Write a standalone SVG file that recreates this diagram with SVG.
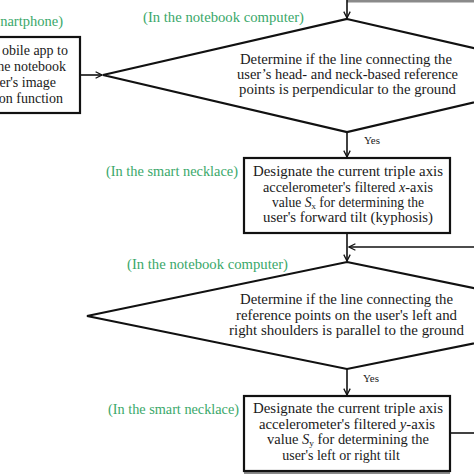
<svg xmlns="http://www.w3.org/2000/svg" width="474" height="474" viewBox="0 0 474 474">
<style>
.shape{fill:#fff;stroke:#111;stroke-width:2.2}
.t{font-family:"Liberation Serif","DejaVu Serif",serif;font-size:14px;fill:#1a1a1a}
.c{text-anchor:middle}
.g{font-family:"Liberation Serif","DejaVu Serif",serif;font-size:14.5px;fill:#3aa86a}
.y{font-family:"Liberation Serif","DejaVu Serif",serif;font-size:11px;fill:#1a1a1a}
.ln{fill:none;stroke:#111;stroke-width:1.6}
.i{font-style:italic}
.sub{font-size:9px}
</style>
<defs>
<marker id="ah" viewBox="0 0 10 10" refX="9" refY="5" markerWidth="8" markerHeight="8" markerUnits="userSpaceOnUse" orient="auto">
<path d="M1,1 L9,5 L1,9" fill="none" stroke="#111" stroke-width="1.6"/>
</marker>
</defs>
<rect width="474" height="474" fill="#fff"/>
<rect x="347" y="0" width="127" height="2.5" fill="#8a8a8a"/>
<rect x="244" y="471.5" width="206" height="2.5" fill="#8a8a8a"/>

<g id="connectors">
<line class="ln" x1="347" y1="0" x2="347" y2="18" marker-end="url(#ah)"/>
<line class="ln" x1="80" y1="75" x2="102" y2="75" marker-end="url(#ah)"/>
<line class="ln" x1="347" y1="132" x2="347" y2="157" marker-end="url(#ah)"/>
<line class="ln" x1="347" y1="233" x2="347" y2="261" marker-end="url(#ah)"/>
<line class="ln" x1="474" y1="247" x2="349" y2="247" marker-end="url(#ah)"/>
<line class="ln" x1="347" y1="369" x2="347" y2="395" marker-end="url(#ah)"/>
<line class="ln" x1="450" y1="433" x2="474" y2="433"/>
<text class="y" x="364" y="144">Yes</text>
<text class="y" x="363" y="382">Yes</text>
</g>

<g id="label-smartphone">
<text class="g" x="63" y="26" text-anchor="end">nartphone)</text>
</g>
<g id="label-notebook-1">
<text class="g" x="143" y="22" textLength="161" lengthAdjust="spacingAndGlyphs">(In the notebook computer)</text>
</g>
<g id="label-necklace-1">
<text class="g" x="106" y="176" textLength="132" lengthAdjust="spacingAndGlyphs">(In the smart necklace)</text>
</g>
<g id="label-notebook-2">
<text class="g" x="127" y="269" textLength="161" lengthAdjust="spacingAndGlyphs">(In the notebook computer)</text>
</g>
<g id="label-necklace-2">
<text class="g" x="108" y="414" textLength="131" lengthAdjust="spacingAndGlyphs">(In the smart necklace)</text>
</g>

<g id="node-app">
<rect class="shape" x="-10" y="37" width="90" height="76"/>
<text class="t" x="68" y="55" text-anchor="end">obile app to</text>
<text class="t" x="66" y="71" text-anchor="end">he notebook</text>
<text class="t" x="56" y="87" text-anchor="end">er's image</text>
<text class="t" x="63" y="103" text-anchor="end">on function</text>
</g>

<g id="node-decision-1">
<polygon class="shape" points="347,19 591,75 347,132 103,75"/>
<text class="t" x="240" y="64" textLength="212" lengthAdjust="spacingAndGlyphs">Determine if the line connecting the</text>
<text class="t" x="237" y="79" textLength="221" lengthAdjust="spacingAndGlyphs">user’s head- and neck-based reference</text>
<text class="t" x="239" y="94" textLength="217" lengthAdjust="spacingAndGlyphs">points is perpendicular to the ground</text>
</g>

<g id="node-x-axis">
<rect class="shape" x="244" y="158" width="206" height="75"/>
<text class="t" x="253" y="176" textLength="190" lengthAdjust="spacingAndGlyphs">Designate the current triple axis</text>
<text class="t" x="263" y="192" textLength="170" lengthAdjust="spacingAndGlyphs">accelerometer's filtered <tspan class="i">x</tspan>-axis</text>
<text class="t" x="272" y="207" textLength="152" lengthAdjust="spacingAndGlyphs">value <tspan class="i">S</tspan><tspan class="sub" dy="2">x</tspan><tspan dy="-2"> for determining the</tspan></text>
<text class="t" x="263" y="222" textLength="170" lengthAdjust="spacingAndGlyphs">user's forward tilt (kyphosis)</text>
</g>

<g id="node-decision-2">
<polygon class="shape" points="347,262 609,316 347,369 87,316"/>
<text class="t" x="240" y="304" textLength="213" lengthAdjust="spacingAndGlyphs">Determine if the line connecting the</text>
<text class="t" x="236" y="320" textLength="221" lengthAdjust="spacingAndGlyphs">reference points on the user's left and</text>
<text class="t" x="229" y="335" textLength="235" lengthAdjust="spacingAndGlyphs">right shoulders is parallel to the ground</text>
</g>

<g id="node-y-axis">
<rect class="shape" x="244" y="396" width="206" height="75"/>
<text class="t" x="253" y="413" textLength="190" lengthAdjust="spacingAndGlyphs">Designate the current triple axis</text>
<text class="t" x="259" y="429" textLength="176" lengthAdjust="spacingAndGlyphs">accelerometer's filtered <tspan class="i">y</tspan>-axis</text>
<text class="t" x="267" y="444" textLength="162" lengthAdjust="spacingAndGlyphs">value <tspan class="i">S</tspan><tspan class="sub" dy="2">y</tspan><tspan dy="-2"> for determining the</tspan></text>
<text class="t c" x="341" y="460">user's left or right tilt</text>
</g>
</svg>
